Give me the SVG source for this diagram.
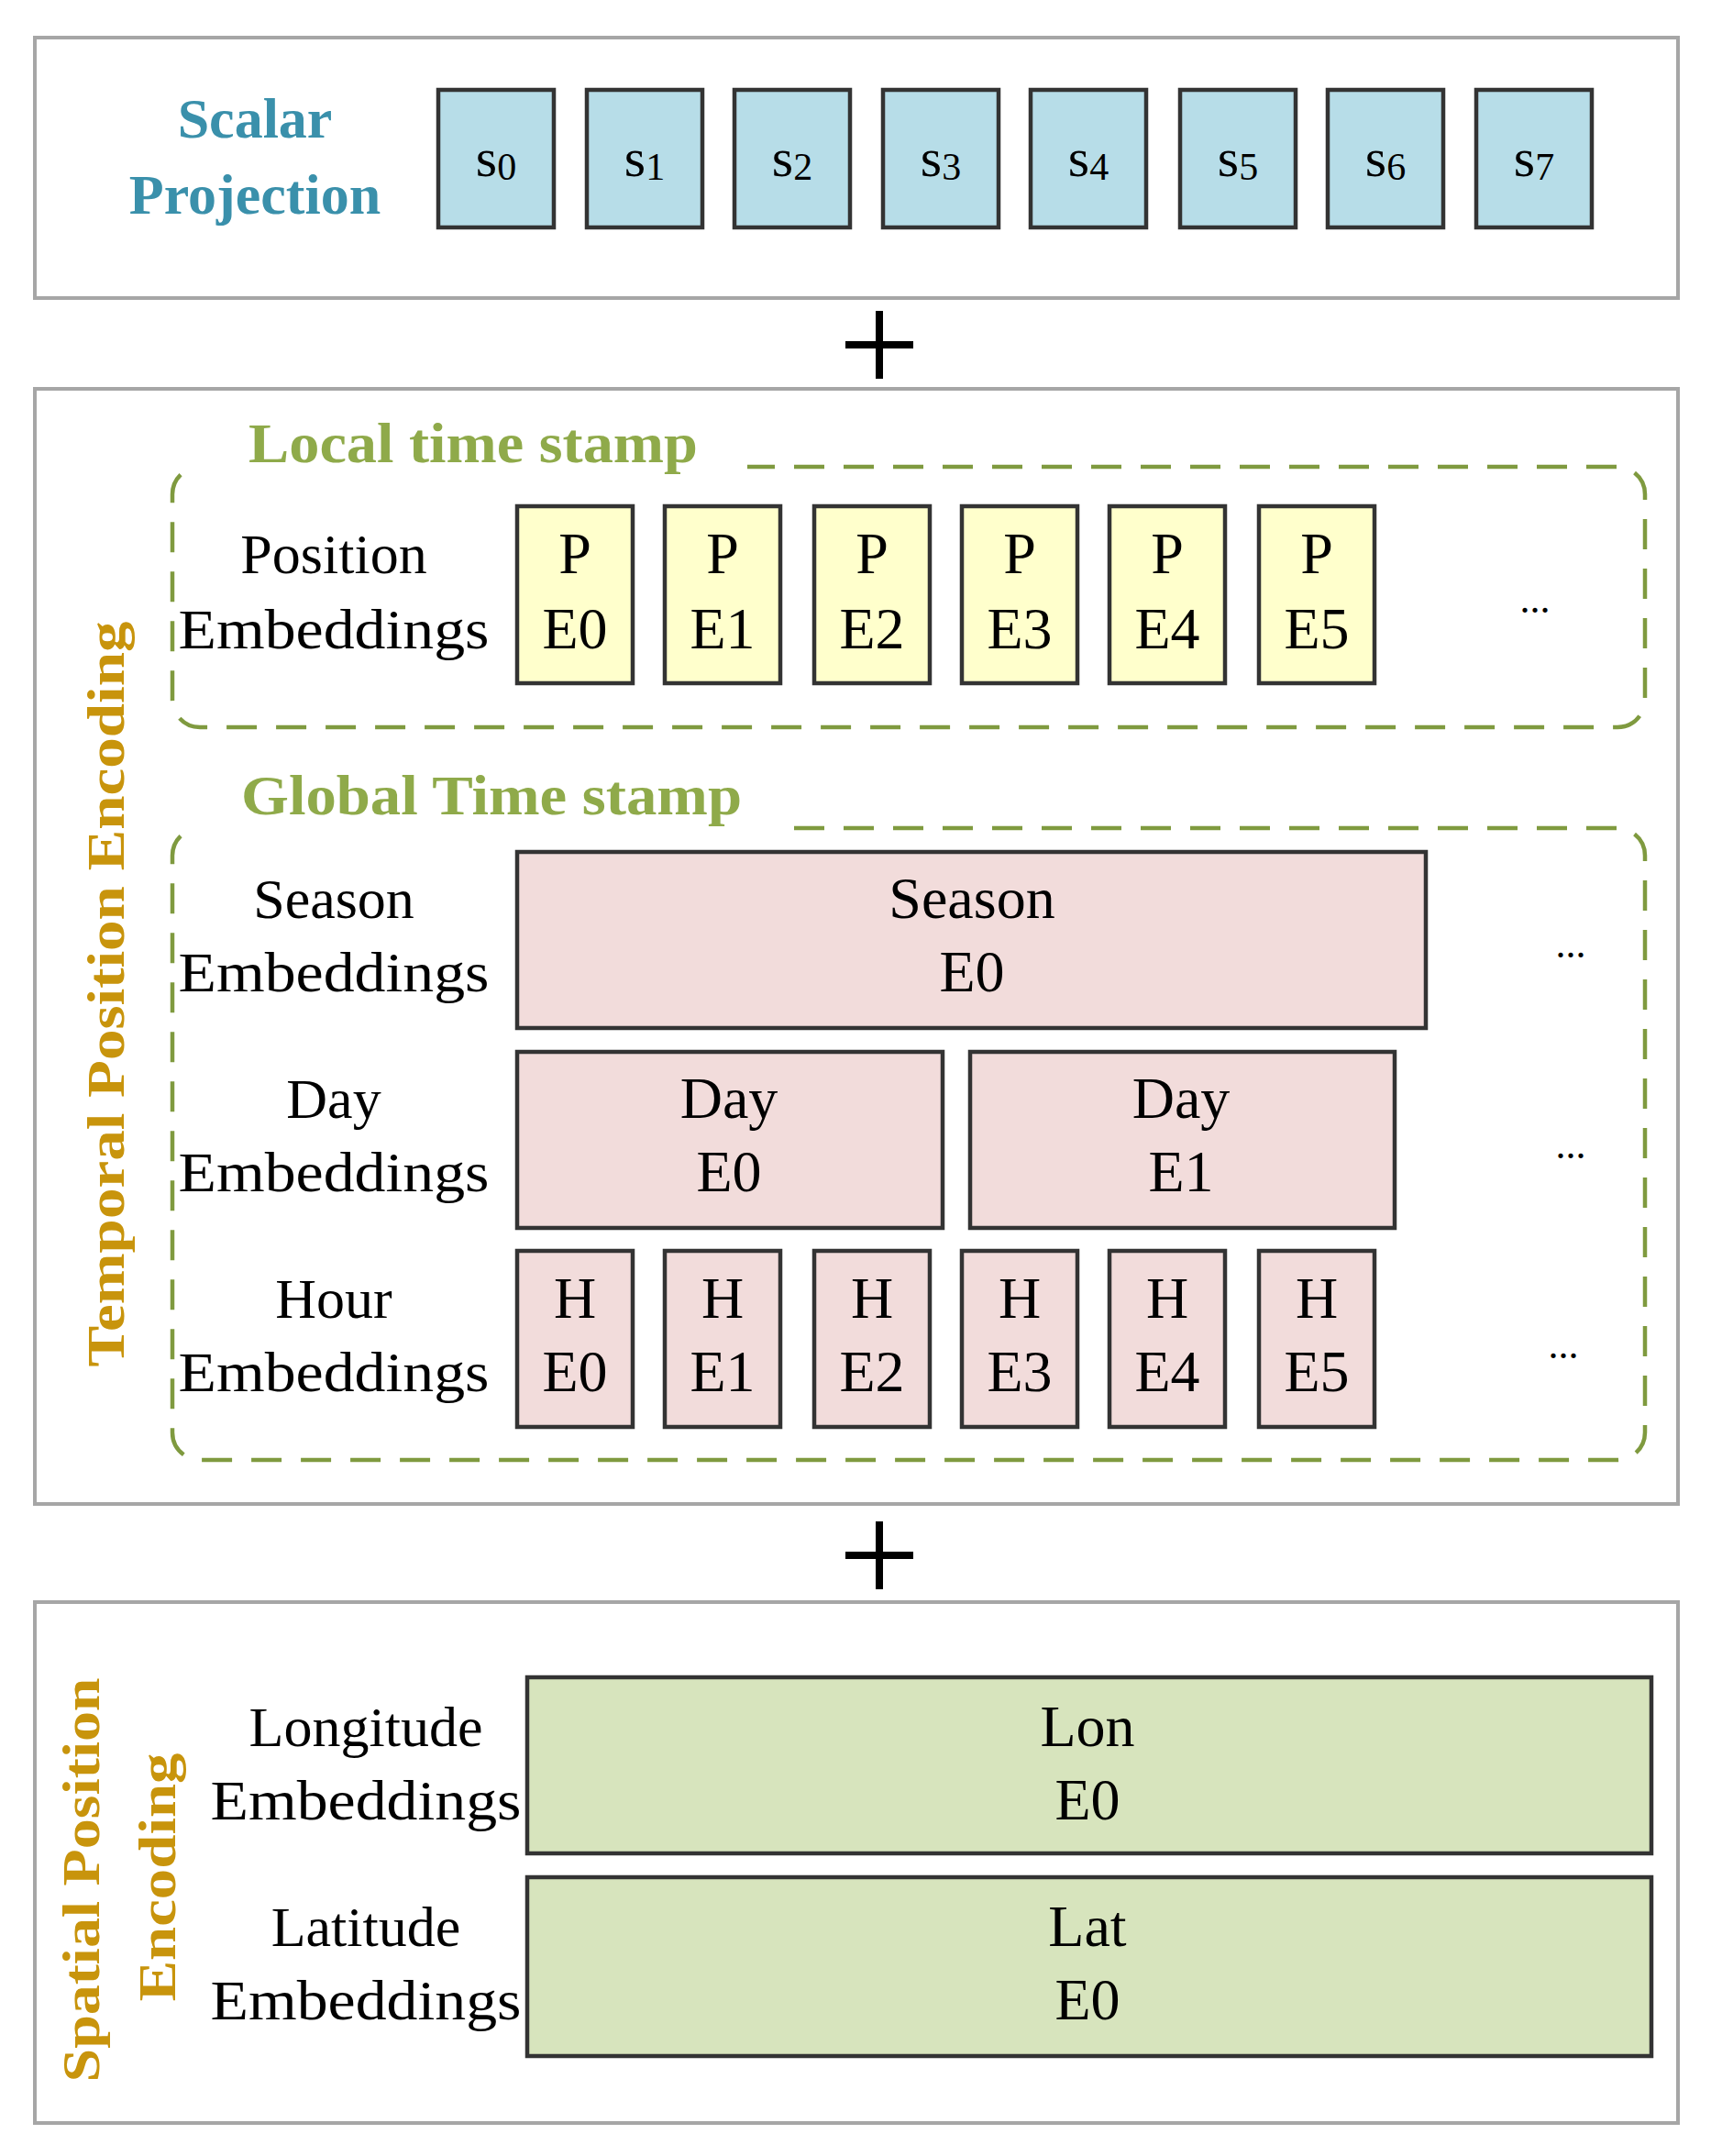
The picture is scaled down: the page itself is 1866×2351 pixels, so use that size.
<svg xmlns="http://www.w3.org/2000/svg" width="1866" height="2351" viewBox="0 0 1866 2351">
<style>
.outer{fill:#fff;stroke:#a6a6a6;stroke-width:4}
.b{stroke:#333;stroke-width:4.5}
.s{fill:#b7dde8}.p{fill:#ffffcc}.r{fill:#f2dcdb}.g{fill:#d7e4bd}
.dash{fill:none;stroke:#7f9a3f;stroke-width:4.5;stroke-dasharray:33 21}
text{font-family:"Liberation Serif","Times New Roman",serif;fill:#000}
.t{font-size:64px;text-anchor:middle}
.lab{font-size:62px;text-anchor:middle}
.sv{font-size:60px;text-anchor:middle}
.sub{font-size:42px}
.ttl{font-weight:bold;font-size:62px}
.grn{fill:#8faa4a}
.org{fill:#c8940c;font-weight:bold;font-size:58px;text-anchor:middle}
.dots{font-size:44px;text-anchor:middle}
</style>
<g id="scalar">
<rect class="outer" x="38" y="41" width="1792" height="284"/>
<text x="278" y="150" class="ttl" text-anchor="middle" style="fill:#3a90ab">Scalar</text>
<text x="278" y="233" class="ttl" text-anchor="middle" style="fill:#3a90ab">Projection</text>
<g id="s-boxes">
<rect class="b s" x="478" y="98" width="126" height="150"/>
<rect class="b s" x="640" y="98" width="126" height="150"/>
<rect class="b s" x="801" y="98" width="126" height="150"/>
<rect class="b s" x="963" y="98" width="126" height="150"/>
<rect class="b s" x="1124" y="98" width="126" height="150"/>
<rect class="b s" x="1287" y="98" width="126" height="150"/>
<rect class="b s" x="1448" y="98" width="126" height="150"/>
<rect class="b s" x="1610" y="98" width="126" height="150"/>
<text x="541" y="192" class="sv">s<tspan class="sub" dy="4">0</tspan></text>
<text x="703" y="192" class="sv">s<tspan class="sub" dy="4">1</tspan></text>
<text x="864" y="192" class="sv">s<tspan class="sub" dy="4">2</tspan></text>
<text x="1026" y="192" class="sv">s<tspan class="sub" dy="4">3</tspan></text>
<text x="1187" y="192" class="sv">s<tspan class="sub" dy="4">4</tspan></text>
<text x="1350" y="192" class="sv">s<tspan class="sub" dy="4">5</tspan></text>
<text x="1511" y="192" class="sv">s<tspan class="sub" dy="4">6</tspan></text>
<text x="1673" y="192" class="sv">s<tspan class="sub" dy="4">7</tspan></text>
</g>
</g>
<g id="plus1"><path d="M922 376H996M959 339V413" stroke="#000" stroke-width="8"/></g>
<g id="temporal">
<rect class="outer" x="38" y="424" width="1792" height="1216"/>
<text class="org" transform="translate(135 1084) rotate(-90)" textLength="813" lengthAdjust="spacingAndGlyphs">Temporal Position Encoding</text>
<g id="local">
<rect class="dash" x="188" y="509" width="1606" height="284" rx="30"/>
<rect x="215" y="470" width="600" height="70" fill="#fff"/>
<text x="271" y="504" class="ttl grn" textLength="490" lengthAdjust="spacingAndGlyphs">Local time stamp</text>
<text x="364" y="625" class="lab">Position</text>
<text x="364" y="707" class="lab" textLength="339" lengthAdjust="spacingAndGlyphs">Embeddings</text>
<rect class="b p" x="564" y="552" width="126" height="193"/>
<rect class="b p" x="725" y="552" width="126" height="193"/>
<rect class="b p" x="888" y="552" width="126" height="193"/>
<rect class="b p" x="1049" y="552" width="126" height="193"/>
<rect class="b p" x="1210" y="552" width="126" height="193"/>
<rect class="b p" x="1373" y="552" width="126" height="193"/>
<text class="t" x="627" y="625">P</text><text class="t" x="627" y="707">E0</text>
<text class="t" x="788" y="625">P</text><text class="t" x="788" y="707">E1</text>
<text class="t" x="951" y="625">P</text><text class="t" x="951" y="707">E2</text>
<text class="t" x="1112" y="625">P</text><text class="t" x="1112" y="707">E3</text>
<text class="t" x="1273" y="625">P</text><text class="t" x="1273" y="707">E4</text>
<text class="t" x="1436" y="625">P</text><text class="t" x="1436" y="707">E5</text>
<text class="dots" x="1674" y="668">...</text>
</g>
<g id="global">
<rect class="dash" x="188" y="903" width="1606" height="689" rx="30"/>
<rect x="215" y="855" width="635" height="75" fill="#fff"/>
<text x="263" y="888" class="ttl grn" textLength="546" lengthAdjust="spacingAndGlyphs">Global Time stamp</text>
<text x="364" y="1001" class="lab">Season</text>
<text x="364" y="1081" class="lab" textLength="339" lengthAdjust="spacingAndGlyphs">Embeddings</text>
<rect class="b r" x="564" y="929" width="991" height="192"/>
<text class="t" x="1060" y="1001">Season</text><text class="t" x="1060" y="1081">E0</text>
<text class="dots" x="1713" y="1044">...</text>
<text x="364" y="1219" class="lab">Day</text>
<text x="364" y="1299" class="lab" textLength="339" lengthAdjust="spacingAndGlyphs">Embeddings</text>
<rect class="b r" x="564" y="1147" width="464" height="192"/>
<rect class="b r" x="1058" y="1147" width="463" height="192"/>
<text class="t" x="795" y="1219">Day</text><text class="t" x="795" y="1299">E0</text>
<text class="t" x="1288" y="1219">Day</text><text class="t" x="1288" y="1299">E1</text>
<text class="dots" x="1713" y="1263">...</text>
<text x="364" y="1437" class="lab">Hour</text>
<text x="364" y="1517" class="lab" textLength="339" lengthAdjust="spacingAndGlyphs">Embeddings</text>
<rect class="b r" x="564" y="1364" width="126" height="192"/>
<rect class="b r" x="725" y="1364" width="126" height="192"/>
<rect class="b r" x="888" y="1364" width="126" height="192"/>
<rect class="b r" x="1049" y="1364" width="126" height="192"/>
<rect class="b r" x="1210" y="1364" width="126" height="192"/>
<rect class="b r" x="1373" y="1364" width="126" height="192"/>
<text class="t" x="627" y="1437">H</text><text class="t" x="627" y="1517">E0</text>
<text class="t" x="788" y="1437">H</text><text class="t" x="788" y="1517">E1</text>
<text class="t" x="951" y="1437">H</text><text class="t" x="951" y="1517">E2</text>
<text class="t" x="1112" y="1437">H</text><text class="t" x="1112" y="1517">E3</text>
<text class="t" x="1273" y="1437">H</text><text class="t" x="1273" y="1517">E4</text>
<text class="t" x="1436" y="1437">H</text><text class="t" x="1436" y="1517">E5</text>
<text class="dots" x="1705" y="1481">...</text>
</g>
</g>
<g id="plus2"><path d="M922 1696H996M959 1659V1733" stroke="#000" stroke-width="8"/></g>
<g id="spatial">
<rect class="outer" x="38" y="1747" width="1792" height="568"/>
<text class="org" transform="translate(108 2050) rotate(-90)" textLength="441" lengthAdjust="spacingAndGlyphs">Spatial Position</text>
<text class="org" transform="translate(191 2047) rotate(-90)" textLength="271" lengthAdjust="spacingAndGlyphs">Encoding</text>
<text x="399" y="1904" class="lab">Longitude</text>
<text x="399" y="1984" class="lab" textLength="339" lengthAdjust="spacingAndGlyphs">Embeddings</text>
<rect class="b g" x="575" y="1829" width="1226" height="192"/>
<text class="t" x="1186" y="1904">Lon</text><text class="t" x="1186" y="1984">E0</text>
<text x="399" y="2122" class="lab">Latitude</text>
<text x="399" y="2202" class="lab" textLength="339" lengthAdjust="spacingAndGlyphs">Embeddings</text>
<rect class="b g" x="575" y="2047" width="1226" height="195"/>
<text class="t" x="1186" y="2122">Lat</text><text class="t" x="1186" y="2202">E0</text>
</g>
<g id="connectors"/>
</svg>
